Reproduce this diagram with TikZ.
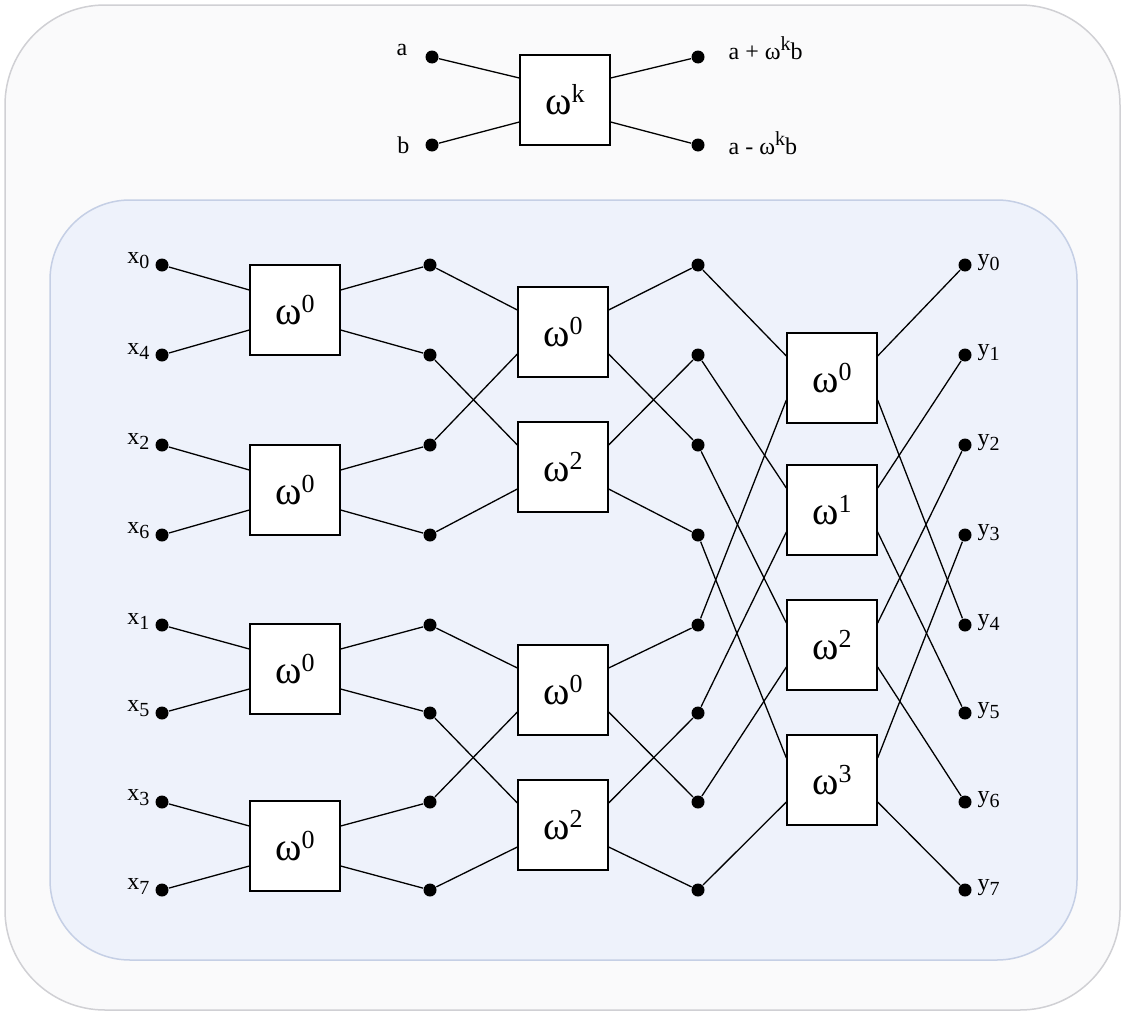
\documentclass[tikz,border=0pt]{standalone}
\usepackage{fontspec}
\setmainfont{Liberation Serif}
\usetikzlibrary{calc}
\definecolor{outerfill}{HTML}{FAFAFB}
\definecolor{outerline}{HTML}{D0D0D4}
\definecolor{innerfill}{HTML}{EEF2FB}
\definecolor{innerline}{HTML}{C5CFE5}
\newcommand\sbs[1]{\raisebox{-5pt}{\fontsize{20}{22}\selectfont #1}}
\newcommand\sps[1]{\raisebox{9pt}{\fontsize{20}{22}\selectfont #1}}
\newcommand\bfy[9]{%
  \node[bx] (#1) at (#2,#3) {ω\raisebox{12pt}{\fontsize{26}{28}\selectfont #4}};
  \draw (#5) -- ($(#1.west)+(0,-#9)$);
  \draw (#6) -- ($(#1.west)+(0,#9)$);
  \draw ($(#1.east)+(0,-#9)$) -- (#7);
  \draw ($(#1.east)+(0,#9)$) -- (#8);
}
\begin{document}
\begin{tikzpicture}[x=1pt,y=-1pt,line width=1.3pt,
  dot/.style={circle,fill,inner sep=0pt,minimum size=13pt},
  bx/.style={draw,fill=white,minimum size=90pt,inner sep=0pt,font=\fontsize{40}{44}\selectfont},
  lbl/.style={font=\fontsize{24}{28}\selectfont,inner sep=2pt}]
\useasboundingbox (0,0) rectangle (1125,1017);
\draw[outerline,fill=outerfill,line width=1.5pt,rounded corners=100pt] (5,5) rectangle (1120,1010);
\draw[innerline,fill=innerfill,line width=1.5pt,rounded corners=80pt] (50,200) rectangle (1077,960);
% legend
\node[dot] (la) at (432,57) {};
\node[dot] (lb) at (432,145) {};
\node[dot] (ra) at (698,57) {};
\node[dot] (rb) at (698,145) {};
\node[lbl,anchor=east] (ta) at (410,50) {a};
\node[lbl,anchor=east] (tb) at (412,145) {b};
\node[lbl,anchor=west] (tc) at (726,48) {a + ω\sps{k}b};
\node[lbl,anchor=west] (td) at (726,143) {a - ω\sps{k}b};
\bfy{L}{565}{100}{k}{la}{lb}{ra}{rb}{22}
% dots
\foreach \i/\y in {0/265,1/355,2/445,3/535,4/625,5/713,6/802,7/890}{
  \node[dot] (a\i) at (162,\y) {};
  \node[dot] (b\i) at (430,\y) {};
  \node[dot] (c\i) at (698,\y) {};
  \node[dot] (d\i) at (965,\y) {};
}
\foreach \i/\n in {0/0,1/4,2/2,3/6,4/1,5/5,6/3,7/7}{
  \node[lbl,anchor=east] (xl\i) at ($(a\i)+(-10,-4)$) {x\sbs{\n}};
}
\foreach \i in {0,...,7}{
  \node[lbl,anchor=west] (yl\i) at ($(d\i)+(10,-2)$) {y\sbs{\i}};
}
% stage 1
\bfy{s1a}{295}{310}{0}{a0}{a1}{b0}{b1}{20}
\bfy{s1b}{295}{490}{0}{a2}{a3}{b2}{b3}{20}
\bfy{s1c}{295}{669}{0}{a4}{a5}{b4}{b5}{20}
\bfy{s1d}{295}{846}{0}{a6}{a7}{b6}{b7}{20}
% stage 2
\bfy{s2a}{563}{332}{0}{b0}{b2}{c0}{c2}{22}
\bfy{s2b}{563}{467}{2}{b1}{b3}{c1}{c3}{22}
\bfy{s2c}{563}{690}{0}{b4}{b6}{c4}{c6}{22}
\bfy{s2d}{563}{825}{2}{b5}{b7}{c5}{c7}{22}
% stage 3
\bfy{s3a}{832}{378}{0}{c0}{c4}{d0}{d4}{22}
\bfy{s3b}{832}{510}{1}{c1}{c5}{d1}{d5}{22}
\bfy{s3c}{832}{645}{2}{c2}{c6}{d2}{d6}{22}
\bfy{s3d}{832}{780}{3}{c3}{c7}{d3}{d7}{22}
\end{tikzpicture}
\end{document}
